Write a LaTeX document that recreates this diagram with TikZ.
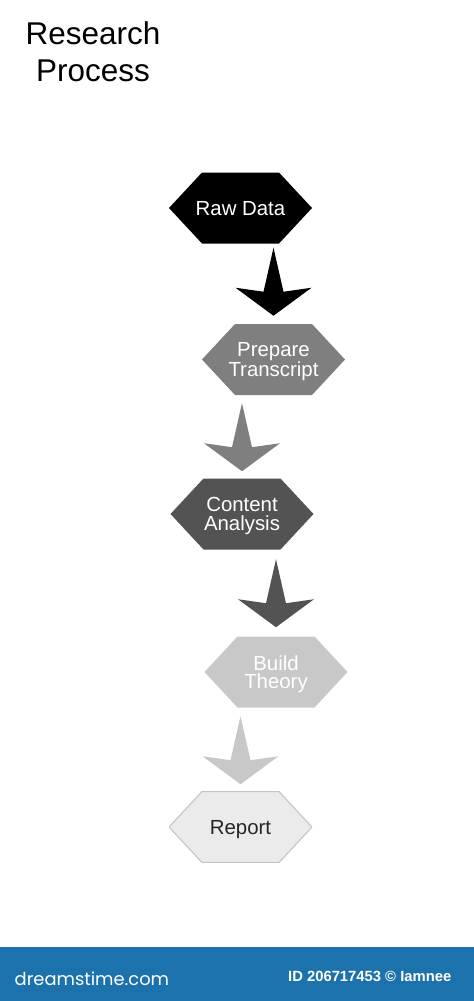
\documentclass[tikz,border=0pt]{standalone}
\usepackage{fontspec}
\setmainfont{Liberation Sans}
\newfontfamily\logofont{Poppins}
\usetikzlibrary{calc}

\definecolor{prepfill}{HTML}{7F7F7F}
\definecolor{contfill}{HTML}{535353}
\definecolor{buildfill}{HTML}{C8C8C8}
\definecolor{repfill}{HTML}{EBEBEB}
\definecolor{repline}{HTML}{C4C4C4}
\definecolor{bannerblue}{HTML}{1C72AC}

\tikzset{
  hexcol/.store in=\hexcol, hexcol=black,
  hexline/.store in=\hexline, hexline=none,
  hexbox/.style={minimum width=107.25pt, minimum height=53.25pt, inner sep=0pt, align=center,
    text depth=0pt, font=\fontsize{15.3}{14}\selectfont,
    path picture={\path[fill=\hexcol, draw=\hexline, line width=0.8pt]
      (path picture bounding box.west)
      -- ([xshift=24.75pt]path picture bounding box.north west)
      -- ([xshift=-24.75pt]path picture bounding box.north east)
      -- (path picture bounding box.east)
      -- ([xshift=-24.75pt]path picture bounding box.south east)
      -- ([xshift=24.75pt]path picture bounding box.south west) -- cycle;}},
  dart/.pic={\fill[#1] (0,0) -- (38,-28) -- (10,-24) -- (0,-68) -- (-10,-24) -- (-38,-28) -- cycle;}
}

\begin{document}
\begin{tikzpicture}[x=0.75pt, y=-0.75pt]
  \useasboundingbox (0,0) rectangle (474,1001);
  \fill[white] (0,0) rectangle (474,1001);

  % Title
  \node[font=\fontsize{23.6}{27.75}\selectfont, align=center] (title) at (93,52) {Research\\Process};

  % Define nodes
  \node[hexbox, hexcol=black, text=white] (raw) at (240.5,208) {Raw Data};
  \node[hexbox, hexcol=prepfill, text=white] (prep) at (273.5,359.5) {Prepare\\Transcript};
  \node[hexbox, hexcol=contfill, text=white] (cont) at (242,514) {Content\\Analysis};
  \node[hexbox, hexcol=buildfill, text=white] (build) at (276,672) {Build\\Theory};
  \node[hexbox, hexcol=repfill, hexline=repline, text=black!85] (rep) at (240.5,827) {Report};

  % Block arrows between steps
  \pic at ($(prep.north)+(0,-8)$) {dart=black};
  \pic at ($(cont.north)+(0,-7)$) {dart=prepfill};
  \pic at ($(build.north)+(0,-9)$) {dart=contfill};
  \pic at ($(rep.north)+(0,-7)$) {dart=buildfill};

  % Banner
  \fill[bannerblue] (0,947) rectangle (474,1001);
  \node[anchor=base west, text=white, font=\logofont\fontsize{13.4}{16}\selectfont] (logo) at (10,985) {dreamstime.com};
  \node[anchor=base east, text=white, font=\bfseries\fontsize{11.1}{12}\selectfont] (id) at (456,981) {ID 206717453 © Iamnee};
\end{tikzpicture}
\end{document}
